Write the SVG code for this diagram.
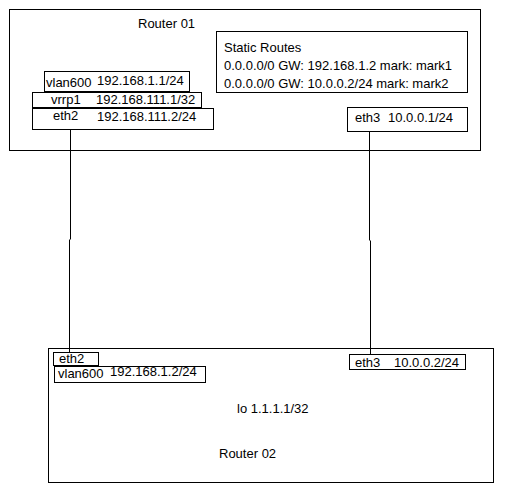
<svg xmlns="http://www.w3.org/2000/svg" width="508" height="500" viewBox="0 0 508 500">
<style>
.box{fill:none;stroke:#000;stroke-width:1}
.ibox{fill:#fff;stroke:#000;stroke-width:1}
text{font-family:"Liberation Sans",Arial,sans-serif;font-size:13px;fill:#000}
.wire{stroke:#000;stroke-width:1;fill:none}
</style>
<rect width="508" height="500" fill="#fff"/>
<g id="router01">
<rect class="box" x="9.5" y="9.5" width="471" height="141"/>
<text x="138" y="28">Router 01</text>
</g>
<g id="static-routes">
<rect class="ibox" x="216.5" y="31.5" width="251" height="61"/>
<text x="224" y="52">Static Routes</text>
<text x="224" y="70">0.0.0.0/0 GW: 192.168.1.2 mark: mark1</text>
<text x="224" y="88">0.0.0.0/0 GW: 10.0.0.2/24 mark: mark2</text>
</g>
<g id="r1-vlan600">
<rect class="ibox" x="44.5" y="71.5" width="145" height="20"/>
<text x="46" y="87">vlan600</text>
<text x="97" y="85">192.168.1.1/24</text>
</g>
<g id="r1-vrrp1">
<rect class="ibox" x="32.5" y="92.5" width="169" height="15"/>
<text x="51" y="104">vrrp1</text>
<text x="96" y="103.5">192.168.111.1/32</text>
</g>
<g id="r1-eth2">
<rect class="ibox" x="32.5" y="108.5" width="181" height="21"/>
<text x="53" y="120">eth2</text>
<text x="97" y="121">192.168.111.2/24</text>
</g>
<g id="r1-eth3">
<rect class="ibox" x="347.5" y="107.5" width="120" height="24"/>
<text x="355" y="122">eth3</text>
<text x="388" y="122">10.0.0.1/24</text>
</g>
<g id="router02">
<rect class="box" x="48.5" y="348.5" width="445" height="134"/>
<text x="237" y="413">lo 1.1.1.1/32</text>
<text x="219" y="458">Router 02</text>
</g>
<g id="r2-eth2">
<rect class="ibox" x="53.5" y="352.5" width="45" height="13"/>
<text x="59" y="363">eth2</text>
</g>
<g id="r2-vlan600">
<rect class="ibox" x="54.5" y="366.5" width="151" height="16"/>
<text x="58" y="378">vlan600</text>
<text x="110" y="375.5">192.168.1.2/24</text>
</g>
<g id="r2-eth3">
<rect class="ibox" x="349.5" y="354.5" width="116" height="15"/>
<text x="355" y="367">eth3</text>
<text x="394" y="367">10.0.0.2/24</text>
</g>
<g id="connectors">
<path class="wire" d="M70.5 129.5V239.5M69.5 239.5V352.5"/>
<path class="wire" d="M369.5 131.5V240.5M370.5 240.5V354.5"/>
</g>
</svg>
